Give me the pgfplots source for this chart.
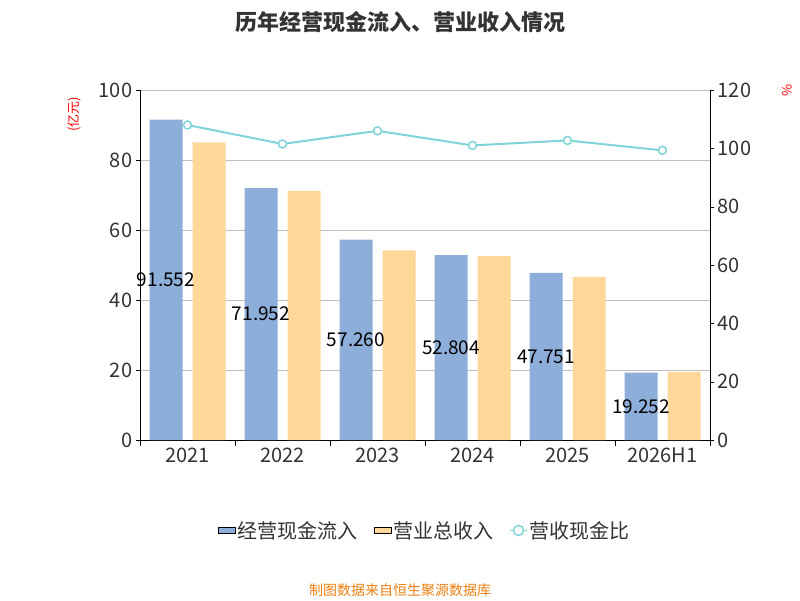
\documentclass[border=0pt]{standalone}
\usepackage{pgfplots}
\pgfplotsset{compat=1.18}
\usepackage{fontspec}
\setmainfont{Noto Sans CJK SC}
\definecolor{cb}{HTML}{8EAEDA}
\definecolor{co}{HTML}{FFD799}
\definecolor{cl}{HTML}{80D4D8}
\definecolor{tk}{HTML}{333333}
\begin{document}
\begin{tikzpicture}
\path[use as bounding box] (0pt,0pt) rectangle (800pt,600pt);
\node[font=\fontsize{22}{24}\selectfont\bfseries, text=tk] at (400pt,578pt) {历年经营现金流入、营业收入情况};
\begin{axis}[at={(140pt,160pt)}, anchor=south west, scale only axis, width=570pt, height=350pt,
 xmin=-0.5, xmax=5.5, ymin=0, ymax=100, ytick={0,20,...,100},
 xtick={0,...,5}, xticklabels={2021,2022,2023,2024,2025,2026H1},
 minor xtick={-0.5,0.5,...,5.5},
 major x tick style={draw=none}, minor tick length=6pt,
 tick align=outside, ytick style={black}, minor x tick style={black},
 axis x line*=bottom, axis y line*=left, axis line style={black},
 ymajorgrids, grid style={gray!50},
 ticklabel style={font=\fontsize{20}{22}\selectfont, text=tk},
 /pgf/number format/assume math mode=true,
 clip=false,
 legend style={at={(0.5,-0.22)}, anchor=north, draw=none, legend columns=3,
   font=\fontsize{20}{22}\selectfont, text=tk, /tikz/every even column/.append style={column sep=14pt}},
 legend cell align=left,
 ]
\addplot[ybar, bar width=33pt, bar shift=-21.5pt, fill=cb, draw=none, area legend] coordinates {(0,91.55)(1,71.95)(2,57.26)(3,52.80)(4,47.75)(5,19.25)};
\addlegendentry{经营现金流入}
\addplot[draw=none, mark=none, xshift=-21.5pt, nodes near coords, point meta=explicit symbolic,
 nodes near coords align={center}, every node near coord/.style={font=\fontsize{19}{21}\selectfont, text=black}, forget plot]
 table[meta=l] {
x y l
0 45.78 91.552
1 35.98 71.952
2 28.63 57.260
3 26.40 52.804
4 23.88 47.751
5 9.63 19.252
};
\addplot[ybar, bar width=33pt, bar shift=21.5pt, fill=co, draw=none, area legend] coordinates {(0,85.0)(1,71.2)(2,54.2)(3,52.5)(4,46.6)(5,19.5)};
\addlegendentry{营业总收入}
\addlegendimage{cl, line width=1.5pt, mark=*, mark size=5pt, mark options={fill=white}}
\addlegendentry{营收现金比}
\node[rotate=90, text=red, font=\fontsize{13}{14}\selectfont] at (rel axis cs:-0.115,0.93) {(亿元)};
\node[rotate=-90, text=red, font=\fontsize{13}{14}\selectfont] at (rel axis cs:1.135,1.0) {\%};
\end{axis}
\begin{axis}[at={(140pt,160pt)}, anchor=south west, scale only axis, width=570pt, height=350pt,
 xmin=-0.5, xmax=5.5, ymin=0, ymax=120, ytick={0,20,...,120},
 axis x line=none, axis y line*=right, axis line style={black}, tick align=outside, ytick style={black},
 ticklabel style={font=\fontsize{20}{22}\selectfont, text=tk},
 /pgf/number format/assume math mode=true]
\addplot[cl, line width=2pt, mark=*, mark size=4pt, mark options={fill=white, line width=1.5pt}]
 coordinates {(0,108.0)(1,101.5)(2,106.0)(3,101.0)(4,102.7)(5,99.3)};
\end{axis}
\node[text=orange!70!brown, font=\fontsize{14}{16}\selectfont] at (400pt,10pt) {制图数据来自恒生聚源数据库};
\end{tikzpicture}
\end{document}
